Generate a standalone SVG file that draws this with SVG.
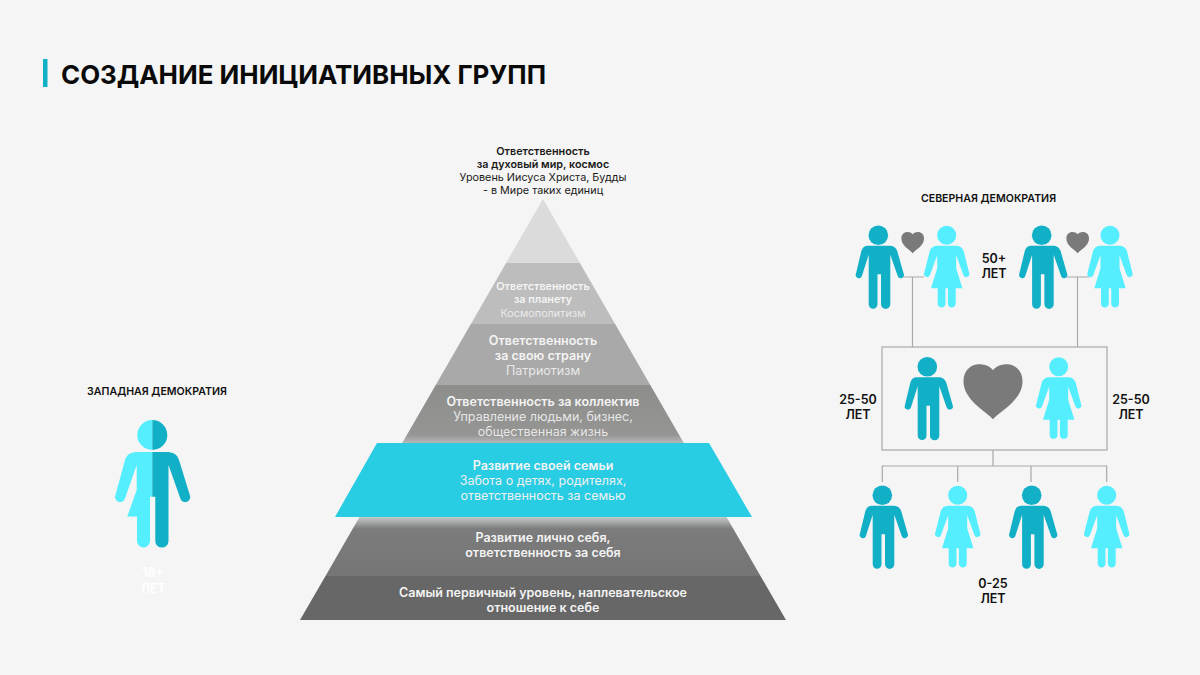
<svg xmlns="http://www.w3.org/2000/svg" width="1200" height="675" viewBox="0 0 1200 675">
<style>
text{font-family:Inter,"Liberation Sans",sans-serif;text-anchor:middle}
.b{font-weight:600}
.title{font-size:25.9px;font-weight:700;text-anchor:start;fill:#0a0a0a}
.s{font-size:10.8px}
.h{font-size:10.6px;font-weight:600;fill:#111}
.m{font-size:12.5px}
.dark{fill:#1a1a1a}
.w{fill:#f4f4f4}
.w2{fill:#f0f0f0;font-weight:400;opacity:.9}
.lbl{font-size:12.5px;font-weight:600;fill:#111}
.man{fill:#12b0c6}
.woman{fill:#55eeff}
.heart{fill:#7a7a7a}
.ln{fill:none;stroke:#a9a9a9;stroke-width:1.2}
</style>
<defs>
<linearGradient id="g4" x1="0" y1="0" x2="0" y2="1"><stop offset="0" stop-color="#8d8d8b"/><stop offset=".86" stop-color="#959593"/><stop offset="1" stop-color="#b5b8b8"/></linearGradient>
<linearGradient id="g5" x1="0" y1="0" x2="0" y2="1"><stop offset="0" stop-color="#c5caca"/><stop offset=".2" stop-color="#7c7c7c"/><stop offset="1" stop-color="#757575"/></linearGradient>
<g id="manF"><circle cx="0" cy="0" r="9.8"/><path d="M-10,10.5H11C15,10.5 17.5,12 19,16L25.4,38.5A3.2,3.2 0 0 1 19.4,40.8L12,19.5V69A4.4,4.4 0 0 1 2.7,69V39H-0.8V69A4.4,4.4 0 0 1-9.6,69V19.5L-16.4,40.8A3.2,3.2 0 0 1-22.4,38.5L-17,16C-15.5,12 -14,10.5 -10,10.5Z"/></g>
<g id="womanF"><circle cx="0" cy="0" r="9.5"/><path d="M-9,10.5H9C13,10.5 15.5,12 17,16L22.4,37.5A3,3 0 0 1 16.7,39.8L9.5,20V33L15.7,53H9V69A4,4 0 0 1 1.2,69V53H-1.2V69A4,4 0 0 1-9,69V53H-15.7L-9.5,33V20L-16.7,39.8A3,3 0 0 1-22.4,37.5L-17,16C-15.5,12 -13,10.5 -9,10.5Z"/></g>
<path id="heartF" d="M0,55C-7,47 -29.5,36 -29.5,17C-29.5,6 -22,0 -14,0C-8,0 -3,2 0,6C3,2 8,0 14,0C22,0 29.5,6 29.5,17C29.5,36 7,47 0,55Z"/>
</defs>
<rect width="1200" height="675" fill="#f5f5f5"/>
<g id="title">
<rect x="43" y="59" width="4.5" height="28" fill="#12b0c6"/>
<text class="title" x="61" y="84">СОЗДАНИЕ ИНИЦИАТИВНЫХ ГРУПП</text>
</g>
<g id="west">
<text class="h" x="157" y="395">ЗАПАДНАЯ ДЕМОКРАТИЯ</text>
<path class="woman" d="M152.3,420A15,15 0 0 0 152.3,450Z"/>
<path class="man" d="M152.3,420A15,15 0 0 1 152.3,450Z"/>
<path class="woman" d="M152.3,452H138C131,452 127,454 125,460L115.5,495A5,5 0 0 0 124.8,499L136.7,465V490L127.3,516.5H137V541A6.5,6.5 0 0 0 150,541V496.7H152.3Z"/>
<path class="man" d="M152.3,452H166C173,452 177,454 179,460L189.8,495A5,5 0 0 1 180.5,499L168.5,465V541A6.6,6.6 0 0 1 155.3,541V496.7H152.3Z"/>
<text class="lbl" x="153" y="577" style="fill:#fff">18+</text>
<text class="lbl" x="153" y="593" style="fill:#fff">ЛЕТ</text>
</g>
<g id="pyramid">
<g id="level-7"><path d="M543,199L579.9,263H506.1Z" fill="#dcdbdb"/>
<text class="s b dark" x="543" y="155">Ответственность</text>
<text class="s b dark" x="543" y="168">за духовый мир, космос</text>
<text class="s dark" x="543" y="181">Уровень Иисуса Христа, Будды</text>
<text class="s dark" x="543" y="194">- в Мире таких единиц</text></g>
<g id="level-6"><path d="M506.1,263H579.9L615.1,324H470.9Z" fill="#bdbdbd"/>
<text class="s b w" x="543" y="290">Ответственность</text>
<text class="s b w" x="543" y="303">за планету</text>
<text class="s w2" x="543" y="316.5">Космополитизм</text></g>
<g id="level-5"><path d="M470.9,324H615.1L650.3,385H435.7Z" fill="#a9a9a9"/>
<text class="m b w" x="543" y="345">Ответственность</text>
<text class="m b w" x="543" y="360">за свою страну</text>
<text class="m w2" x="543" y="375">Патриотизм</text></g>
<g id="level-4"><path d="M435.7,385H650.3L683.8,443H402.2Z" fill="url(#g4)"/>
<text class="m b w" x="543" y="405.5">Ответственность за коллектив</text>
<text class="m w2" x="543" y="421">Управление людьми, бизнес,</text>
<text class="m w2" x="543" y="436">общественная жизнь</text></g>
<g id="level-2"><path d="M359.5,517H726.5L760.5,576H325.5Z" fill="url(#g5)"/>
<text class="m b w" x="543" y="541.5">Развитие лично себя,</text>
<text class="m b w" x="543" y="556.5">ответственность за себя</text></g>
<g id="level-1"><path d="M325.5,576H760.5L786,620H300Z" fill="#676767"/>
<text class="m b w" x="543" y="597">Самый первичный уровень, наплевательское</text>
<text class="m b w" x="543" y="612">отношение к себе</text></g>
<g id="level-3"><path d="M377,443H709L752,517H335Z" fill="#28cce3"/>
<text class="m b w" x="543" y="469.5">Развитие своей семьи</text>
<text class="m w2" x="543" y="484.5" style="opacity:1">Забота о детях, родителях,</text>
<text class="m w2" x="543" y="499.5" style="opacity:1">ответственность за семью</text></g>
</g>
<g id="connectors">
<path class="ln" d="M900,277H924M912.5,277V347M1066,277H1089M1077.5,277V347"/>
<path class="ln" d="M993,450V466M882.3,482V466H1106.7V482M957.7,466V482M1031,466V482"/>
</g>
<text class="h" x="988.5" y="202">СЕВЕРНАЯ ДЕМОКРАТИЯ</text>
<g id="family-box"><rect class="ln" x="882" y="347" width="225" height="103"/></g>
<g id="top-man-1"><use href="#manF" class="man" x="878.3" y="235.3"/></g>
<g id="top-heart-1"><use href="#heartF" class="heart" transform="translate(912.7,232) scale(.385)"/></g>
<g id="top-woman-1"><use href="#womanF" class="woman" x="946.7" y="235.3"/></g>
<g id="top-man-2"><use href="#manF" class="man" x="1041.7" y="235.3"/></g>
<g id="top-heart-2"><use href="#heartF" class="heart" transform="translate(1077.7,232) scale(.385)"/></g>
<g id="top-woman-2"><use href="#womanF" class="woman" x="1110" y="235.3"/></g>
<g id="mid-man"><use href="#manF" class="man" x="927.3" y="366.7"/></g>
<g id="mid-heart"><use href="#heartF" class="heart" transform="translate(993,364.3)"/></g>
<g id="mid-woman"><use href="#womanF" class="woman" x="1058.7" y="366.7"/></g>
<g id="child-1"><use href="#manF" class="man" x="882.3" y="495.3"/></g>
<g id="child-2"><use href="#womanF" class="woman" x="957.7" y="495.3"/></g>
<g id="child-3"><use href="#manF" class="man" x="1031.7" y="495.3"/></g>
<g id="child-4"><use href="#womanF" class="woman" x="1106.7" y="495.3"/></g>
<g id="ages">
<text class="lbl" x="994" y="263">50+</text><text class="lbl" x="994" y="278">ЛЕТ</text>
<text class="lbl" x="858" y="404">25-50</text><text class="lbl" x="858" y="419">ЛЕТ</text>
<text class="lbl" x="1131" y="404">25-50</text><text class="lbl" x="1131" y="419">ЛЕТ</text>
<text class="lbl" x="993" y="588">0-25</text><text class="lbl" x="993" y="603">ЛЕТ</text>
</g>
</svg>
